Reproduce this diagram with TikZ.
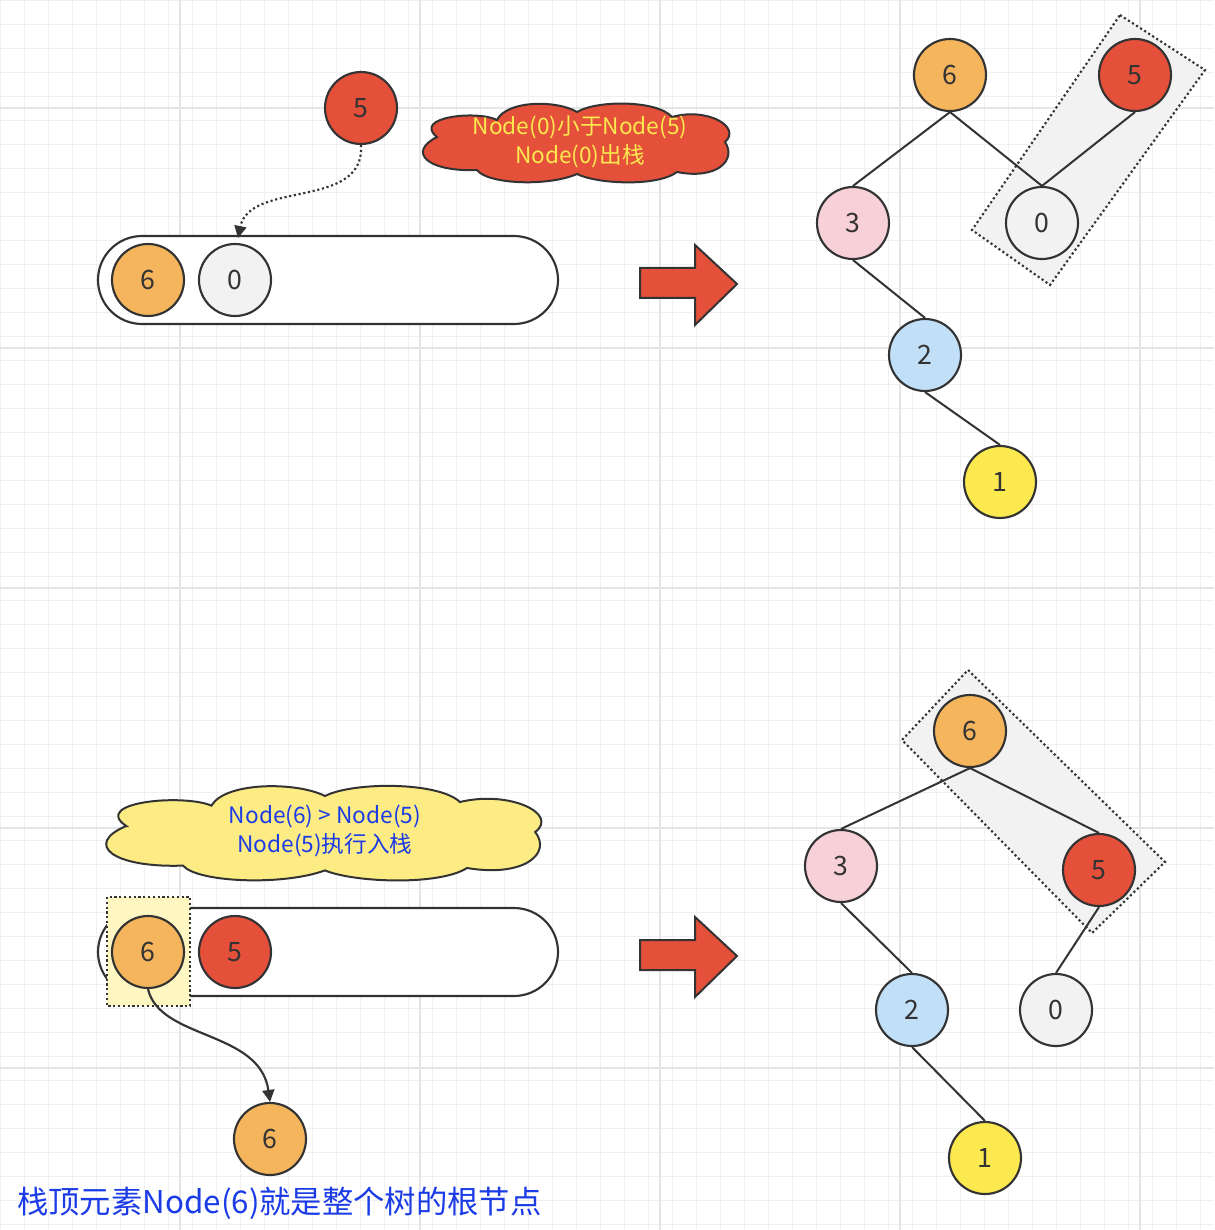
\documentclass[tikz,border=0pt]{standalone}
\usepackage{fontspec}
\setmainfont{Noto Sans CJK SC}
\usetikzlibrary{arrows.meta}
\definecolor{cor}{HTML}{F5B55C}
\definecolor{cre}{HTML}{E4503A}
\definecolor{cgy}{HTML}{F2F2F2}
\definecolor{cpk}{HTML}{F8D0D8}
\definecolor{cbl}{HTML}{C2DFF8}
\definecolor{cyl}{HTML}{FCE94F}
\definecolor{cyl2}{HTML}{FDEB84}
\definecolor{ln}{HTML}{333333}
\definecolor{txtb}{HTML}{1A3BE6}
\tikzset{
 nd/.style={circle,draw=ln,line width=1.6pt,minimum size=54pt,inner sep=0pt,font=\fontsize{20}{22}\selectfont,text=ln},
 ed/.style={draw=ln,line width=1.5pt},
 stk/.style={draw=ln,line width=1.6pt,rounded corners=33pt,fill=white},
 dotbox/.style={draw=ln,line width=1.6pt,dotted},
 blk/.style={fill=cre,draw=ln,line width=1.5pt},
 cltxt/.style={align=center,font=\fontsize{17}{22}\selectfont,inner sep=0pt},
 cloudpath/.pic={\path[pic actions] (-140,-5) .. controls (-165,-25) and (-100,-32) .. (-80,-22) .. controls (-70,-42) and (-20,-42) .. (0,-30) .. controls (20,-42) and (80,-42) .. (95,-25) .. controls (130,-35) and (165,-15) .. (148,0) .. controls (160,18) and (140,38) .. (100,30) .. controls (80,45) and (20,42) .. (0,32) .. controls (-30,45) and (-90,42) .. (-100,28) .. controls (-150,30) and (-170,10) .. cycle;}
}
\begin{document}
\begin{tikzpicture}[x=0.75pt,y=-0.75pt]
\useasboundingbox (0,0) rectangle (1214,1230);
\fill[white] (0,0) rectangle (1214,1230);
\foreach \i in {0,24,...,1214} \draw[black!6,line width=0.5pt] (\i,0)--(\i,1230);
\foreach \i in {0,24,...,1230} \draw[black!6,line width=0.5pt] (0,\i)--(1214,\i);
\foreach \i in {180,420,660,900,1140} \draw[black!10,line width=0.8pt] (\i,0)--(\i,1230);
\foreach \i in {108,348,588,828,1068} \draw[black!10,line width=0.8pt] (0,\i)--(1214,\i);
% ---------- top ----------
\draw[stk] (98,236) rectangle (558,324);
\node[nd,fill=cre] (a5) at (361,108) {5};
\node[nd,fill=cor] (s6) at (148,280) {6};
\node[nd,fill=cgy] (s0) at (235,280) {0};
\coordinate (p0) at (238,238);
\draw[ln,line width=1.6pt,dotted,-{Triangle[length=9pt,width=9pt]}] (a5.south) .. controls (365,210) and (250,180) .. (p0);
\pic[fill=cre,draw=ln,line width=1.5pt] at (577,142) {cloudpath};
\node[cltxt,text=cyl] (c1) at (580,142) {Node(0)小于Node(5)\\Node(0)出栈};
\draw[blk] (640,268)--(695,268)--(695,245)--(737,284)--(695,325)--(695,298)--(640,298)--cycle;
\draw[dotbox,fill=cgy] (1120,15)--(1205,70)--(1050,285)--(972,230)--cycle;
\node[nd,fill=cor] (t6) at (950,75) {6};
\node[nd,fill=cre] (t5) at (1135,75) {5};
\node[nd,fill=cpk] (t3) at (853,223) {3};
\node[nd,fill=cgy] (t0) at (1042,223) {0};
\node[nd,fill=cbl] (t2) at (925,355) {2};
\node[nd,fill=cyl] (t1) at (1000,482) {1};
\draw[ed] (t6.south)--(t3.north) (t6.south)--(t0.north) (t5.south)--(t0.north) (t3.south)--(t2.north) (t2.south)--(t1.north);
% ---------- bottom ----------
\pic[fill=cyl2,draw=ln,line width=1.5pt,xscale=1.42,yscale=1.2] at (325,832) {cloudpath};
\node[cltxt,text=txtb] (c2) at (325,831) {Node(6) > Node(5)\\Node(5)执行入栈};
\draw[stk] (98,908) rectangle (558,996);
\draw[dotbox,fill=cyl!35] (107,897) rectangle (190,1006);
\node[nd,fill=cor] (b6) at (148,952) {6};
\node[nd,fill=cre] (b5) at (235,952) {5};
\node[nd,fill=cor] (r6) at (270,1139) {6};
\draw[ln,line width=1.6pt,-{Triangle[length=9pt,width=9pt]}] (b6.south) .. controls (160,1040) and (260,1030) .. (r6.north);
\node[anchor=west,text=txtb,font=\fontsize{23.5}{26}\selectfont,inner sep=0pt] (tx) at (17,1203) {栈顶元素Node(6)就是整个树的根节点};
\draw[blk] (640,940)--(695,940)--(695,917)--(737,956)--(695,997)--(695,970)--(640,970)--cycle;
\draw[dotbox,fill=cgy] (968,670)--(1165,862)--(1092,933)--(902,740)--cycle;
\node[nd,fill=cor] (u6) at (970,731) {6};
\node[nd,fill=cpk] (u3) at (841,866) {3};
\node[nd,fill=cre] (u5) at (1099,870) {5};
\node[nd,fill=cbl] (u2) at (912,1010) {2};
\node[nd,fill=cgy] (u0) at (1056,1010) {0};
\node[nd,fill=cyl] (u1) at (985,1158) {1};
\draw[ed] (u6.south)--(u3.north) (u6.south)--(u5.north) (u3.south)--(u2.north) (u5.south)--(u0.north) (u2.south)--(u1.north);
\end{tikzpicture}
\end{document}
